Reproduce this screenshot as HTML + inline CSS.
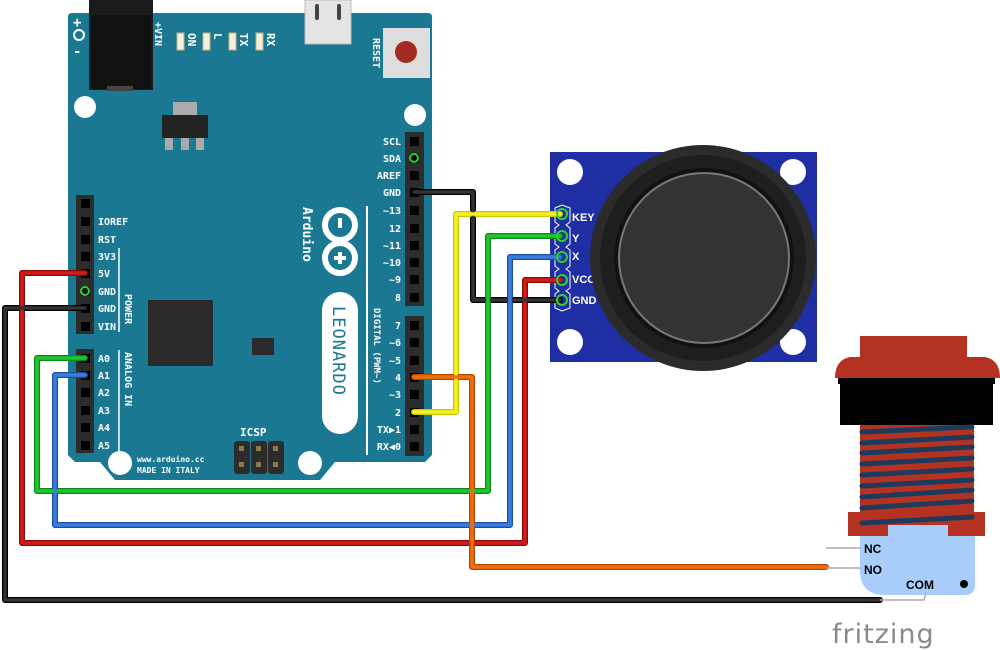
<!DOCTYPE html>
<html><head><meta charset="utf-8"><style>
html,body{margin:0;padding:0;background:#fff;width:1000px;height:651px;overflow:hidden}
svg{display:block}
.m{font-family:"DejaVu Sans Mono","Liberation Mono",monospace;fill:#fff;font-weight:bold}
.s{font-family:"Liberation Sans",sans-serif;font-weight:bold}
</style></head><body>
<svg width="1000" height="651" viewBox="0 0 1000 651" xmlns="http://www.w3.org/2000/svg">
<!-- Arduino board -->
<path d="M72,13 H428 Q432,13 432,17 V455 L425,462 H335 L320,480 H115 L100,462 H75 L68,455 V17 Q68,13 72,13 Z" fill="#1a7893"/>
<!-- power jack -->
<rect x="89" y="0" width="64" height="90" fill="#1c1c1c"/>
<rect x="91" y="15" width="60" height="74" fill="#111"/>
<rect x="107" y="86" width="26" height="5" fill="#444"/>
<!-- usb -->
<rect x="305" y="0" width="46" height="44" fill="#e4e4e4" stroke="#bbb"/>
<rect x="315" y="4" width="4" height="16" fill="#444" rx="2"/><rect x="337" y="4" width="4" height="16" fill="#444" rx="2"/>
<!-- reset -->
<rect x="383" y="28" width="47" height="50" fill="#ddd"/>
<circle cx="406" cy="52" r="11" fill="#a32a22"/>
<text class="m" font-size="10" transform="translate(373,38) rotate(90)">RESET</text>
<text class="m" font-size="10" transform="translate(155,22) rotate(90)">+VIN</text>
<text class="m" font-size="14" x="73" y="27">+</text>
<circle cx="79" cy="35" r="5" fill="none" stroke="#fff" stroke-width="2"/>
<text class="m" font-size="14" x="73" y="56">-</text>
<!-- LEDs -->
<g fill="#f4f0e0" stroke="#c9b27a"><rect x="177" y="33" width="7" height="17"/><rect x="203" y="33" width="7" height="17"/><rect x="229" y="33" width="7" height="17"/><rect x="256" y="33" width="7" height="17"/></g>
<g class="m" font-size="11"><text transform="translate(188,33) rotate(90)">ON</text><text transform="translate(214,33) rotate(90)">L</text><text transform="translate(240,33) rotate(90)">TX</text><text transform="translate(267,33) rotate(90)">RX</text></g>
<!-- holes -->
<g fill="#fff"><circle cx="85" cy="107" r="11"/><circle cx="415" cy="115" r="11"/><circle cx="120" cy="463" r="12"/><circle cx="310" cy="463" r="12"/></g>
<!-- regulator -->
<rect x="173" y="102" width="24" height="14" fill="#aaa"/>
<rect x="162" y="115" width="46" height="23" fill="#222"/>
<rect x="165" y="138" width="8" height="12" fill="#aaa"/><rect x="181" y="138" width="8" height="12" fill="#aaa"/><rect x="196" y="138" width="8" height="12" fill="#aaa"/>
<!-- chips -->
<rect x="148" y="300" width="65" height="66" fill="#2a2a2a"/>
<rect x="252" y="338" width="22" height="17" fill="#2a2a2a"/>
<!-- logo -->
<text class="m" font-size="13" font-weight="normal" transform="translate(303,207) rotate(90)">Arduino</text>
<g fill="none" stroke="#fff" stroke-width="6"><circle cx="340" cy="225" r="15"/><circle cx="340" cy="258" r="15"/></g>
<rect x="338" y="218" width="4" height="10" fill="#fff"/>
<rect x="334" y="256" width="12" height="4" fill="#fff"/><rect x="338" y="252" width="4" height="12" fill="#fff"/>
<rect x="322" y="292" width="36" height="142" rx="18" fill="#fff"/>
<text font-family="DejaVu Sans Mono,monospace" font-size="17" fill="#1a7893" transform="translate(333,306) rotate(90)" letter-spacing="1">LEONARDO</text>
<line x1="367" y1="206" x2="367" y2="455" stroke="#fff" stroke-width="2"/>
<text class="m" font-size="9" transform="translate(374,308) rotate(90)">DIGITAL (PWM~)</text>
<!-- right header -->
<rect x="405" y="132" width="19" height="174" fill="#2c2c2c"/>
<rect x="405" y="316" width="19" height="140" fill="#2c2c2c"/>
<g fill="#000">
<rect x="410" y="137" width="9" height="9"/><rect x="410" y="154" width="9" height="9"/><rect x="410" y="171" width="9" height="9"/><rect x="410" y="188" width="9" height="9"/><rect x="410" y="206" width="9" height="9"/><rect x="410" y="224" width="9" height="9"/><rect x="410" y="241" width="9" height="9"/><rect x="410" y="258" width="9" height="9"/><rect x="410" y="275" width="9" height="9"/><rect x="410" y="293" width="9" height="9"/>
<rect x="410" y="321" width="9" height="9"/><rect x="410" y="338" width="9" height="9"/><rect x="410" y="356" width="9" height="9"/><rect x="410" y="373" width="9" height="9"/><rect x="410" y="390" width="9" height="9"/><rect x="410" y="408" width="9" height="9"/><rect x="410" y="425" width="9" height="9"/><rect x="410" y="442" width="9" height="9"/>
</g>
<g class="m" font-size="10" text-anchor="end">
<text x="401" y="145">SCL</text><text x="401" y="162">SDA</text><text x="401" y="179">AREF</text><text x="401" y="196">GND</text><text x="401" y="214">~13</text><text x="401" y="232">12</text><text x="401" y="249">~11</text><text x="401" y="266">~10</text><text x="401" y="283">~9</text><text x="401" y="301">8</text>
<text x="401" y="329">7</text><text x="401" y="346">~6</text><text x="401" y="364">~5</text><text x="401" y="381">4</text><text x="401" y="398">~3</text><text x="401" y="416">2</text><text x="401" y="433">TX▶1</text><text x="401" y="450">RX◀0</text>
</g>
<!-- left header -->
<rect x="76" y="195" width="18" height="139" fill="#2c2c2c"/>
<rect x="76" y="349" width="18" height="104" fill="#2c2c2c"/>
<g fill="#000">
<rect x="81" y="199" width="9" height="9"/><rect x="81" y="217" width="9" height="9"/><rect x="81" y="235" width="9" height="9"/><rect x="81" y="252" width="9" height="9"/><rect x="81" y="269" width="9" height="9"/><rect x="81" y="287" width="9" height="9"/><rect x="81" y="304" width="9" height="9"/><rect x="81" y="322" width="9" height="9"/>
<rect x="81" y="354" width="9" height="9"/><rect x="81" y="371" width="9" height="9"/><rect x="81" y="388" width="9" height="9"/><rect x="81" y="406" width="9" height="9"/><rect x="81" y="423" width="9" height="9"/><rect x="81" y="441" width="9" height="9"/>
</g>
<g class="m" font-size="10">
<text x="98" y="225">IOREF</text><text x="98" y="243">RST</text><text x="98" y="260">3V3</text><text x="98" y="277">5V</text><text x="98" y="295">GND</text><text x="98" y="312">GND</text><text x="98" y="330">VIN</text>
<text x="98" y="362">A0</text><text x="98" y="379">A1</text><text x="98" y="396">A2</text><text x="98" y="414">A3</text><text x="98" y="431">A4</text><text x="98" y="449">A5</text>
</g>
<line x1="119" y1="248" x2="119" y2="332" stroke="#fff" stroke-width="1.5"/>
<line x1="119" y1="350" x2="119" y2="452" stroke="#fff" stroke-width="1.5"/>
<text class="m" font-size="10" transform="translate(125,294) rotate(90)">POWER</text>
<text class="m" font-size="10" transform="translate(125,352) rotate(90)">ANALOG IN</text>
<text class="m" font-size="8" font-weight="normal" x="137" y="462">www.arduino.cc</text>
<text class="m" font-size="8" font-weight="normal" x="137" y="473">MADE IN ITALY</text>
<text class="m" font-size="11" font-weight="normal" x="240" y="436">ICSP</text>
<g fill="#2c2c2c"><rect x="234" y="441" width="16" height="33" rx="3"/><rect x="251" y="441" width="16" height="33" rx="3"/><rect x="268" y="441" width="16" height="33" rx="3"/></g>
<g fill="#8a7a50"><rect x="239" y="446" width="5" height="5"/><rect x="256" y="446" width="5" height="5"/><rect x="273" y="446" width="5" height="5"/><rect x="239" y="462" width="5" height="5"/><rect x="256" y="462" width="5" height="5"/><rect x="273" y="462" width="5" height="5"/></g>

<!-- Joystick -->
<rect x="550" y="152" width="267" height="210" fill="#1f2fa3"/>
<g fill="#fff"><circle cx="570" cy="172" r="13"/><circle cx="793" cy="172" r="13"/><circle cx="570" cy="342" r="13"/><circle cx="793" cy="342" r="13"/></g>
<path d="M555,208 L562,205 L570,208 V222 L566,225 L570,228 V244 L566,247 L570,250 V266 L566,269 L570,272 V288 L566,291 L570,294 V308 L562,311 L555,308 V294 L559,291 L555,288 V272 L559,269 L555,266 V250 L559,247 L555,244 V228 L559,225 L555,222 Z" fill="none" stroke="#fff" stroke-width="1"/>
<g class="s" font-size="11" fill="#fff"><text x="572" y="221">KEY</text><text x="572" y="242">Y</text><text x="572" y="260">X</text><text x="572" y="283">VCC</text><text x="572" y="304">GND</text></g>
<circle cx="703" cy="258" r="113" fill="#2b2b2b"/>
<circle cx="703" cy="258" r="103" fill="#1e1e1e"/>
<circle cx="704" cy="258" r="90" fill="#111"/>
<circle cx="704" cy="258" r="85" fill="#333" stroke="#777" stroke-width="2"/>

<!-- wires -->
<g fill="none" stroke-linejoin="round" stroke-linecap="round">
<g stroke-width="6">
<polyline points="85,273 22,273 22,543 525,543 525,280 560,280" stroke="#8a0a0a"/>
<polyline points="85,308 5,308 5,600 880,600" stroke="#000"/>
<polyline points="414,192 473,192 473,300 560,300" stroke="#000"/>
<polyline points="85,358 37,358 37,491 488,491 488,236 560,236" stroke="#0b8a1a"/>
<polyline points="85,375 55,375 55,525 510,525 510,257 560,257" stroke="#1c4ea0"/>
<polyline points="414,412 456,412 456,214 560,214" stroke="#c9c900"/>
<polyline points="414,377 472,377 472,567 826,567" stroke="#b84a00"/>
</g>
<g stroke-width="3.5">
<polyline points="85,273 22,273 22,543 525,543 525,280 560,280" stroke="#d31b1b"/>
<polyline points="85,308 5,308 5,600 880,600" stroke="#333"/>
<polyline points="414,192 473,192 473,300 560,300" stroke="#333"/>
<polyline points="85,358 37,358 37,491 488,491 488,236 560,236" stroke="#1fc72e"/>
<polyline points="85,375 55,375 55,525 510,525 510,257 560,257" stroke="#3a7de0"/>
<polyline points="414,412 456,412 456,214 560,214" stroke="#f8f020"/>
<polyline points="414,377 472,377 472,567 826,567" stroke="#ef6e10"/>
</g>
</g>
<g fill="none" stroke="#2bd42b" stroke-width="2"><circle cx="562" cy="214" r="5"/><circle cx="562" cy="236" r="5"/><circle cx="562" cy="257" r="5"/><circle cx="562" cy="280" r="5"/><circle cx="562" cy="300" r="5"/><circle cx="85" cy="291" r="4"/><circle cx="414" cy="158" r="4"/></g>

<!-- Button -->
<path d="M860,336 H967 V357 H985 Q1000,360 1000,378 H835 Q835,360 850,357 H860 Z" fill="#b43222"/>
<rect x="838" y="378" width="157" height="6" fill="#000"/>
<rect x="840" y="384" width="153" height="41" fill="#000"/>
<rect x="860" y="425" width="114" height="88" fill="#b43222"/>
<g stroke="#1e3a5a" stroke-width="5" stroke-linecap="round">
<line x1="862" y1="432" x2="972" y2="427"/><line x1="862" y1="443" x2="972" y2="437"/><line x1="862" y1="453" x2="972" y2="447"/><line x1="862" y1="464" x2="972" y2="458"/><line x1="862" y1="475" x2="972" y2="469"/><line x1="862" y1="486" x2="972" y2="480"/><line x1="862" y1="497" x2="972" y2="490"/><line x1="862" y1="508" x2="972" y2="501"/>
</g>
<path d="M860,525 H975 V585 Q975,595 965,595 H885 Q860,595 860,570 Z" fill="#a9cdfa"/>
<path d="M848,512 H985 V536 H948 V525 H888 V536 H848 Z" fill="#b43222"/>
<line x1="862" y1="523" x2="972" y2="517" stroke="#1e3a5a" stroke-width="5" stroke-linecap="round"/>
<g stroke="#aaa" stroke-width="1.5" fill="none"><line x1="826" y1="548" x2="861" y2="548"/><line x1="826" y1="568" x2="861" y2="568"/><polyline points="880,600 924,600 926,593"/></g>
<g class="s" font-size="12" fill="#000"><text x="864" y="553">NC</text><text x="864" y="574">NO</text><text x="906" y="589">COM</text></g>
<circle cx="964" cy="584" r="4" fill="#000"/>
<text x="832" y="643" font-family="DejaVu Sans,sans-serif" font-size="27" fill="#8a8a8a" letter-spacing="1">fritzing</text>
</svg>
</body></html>
